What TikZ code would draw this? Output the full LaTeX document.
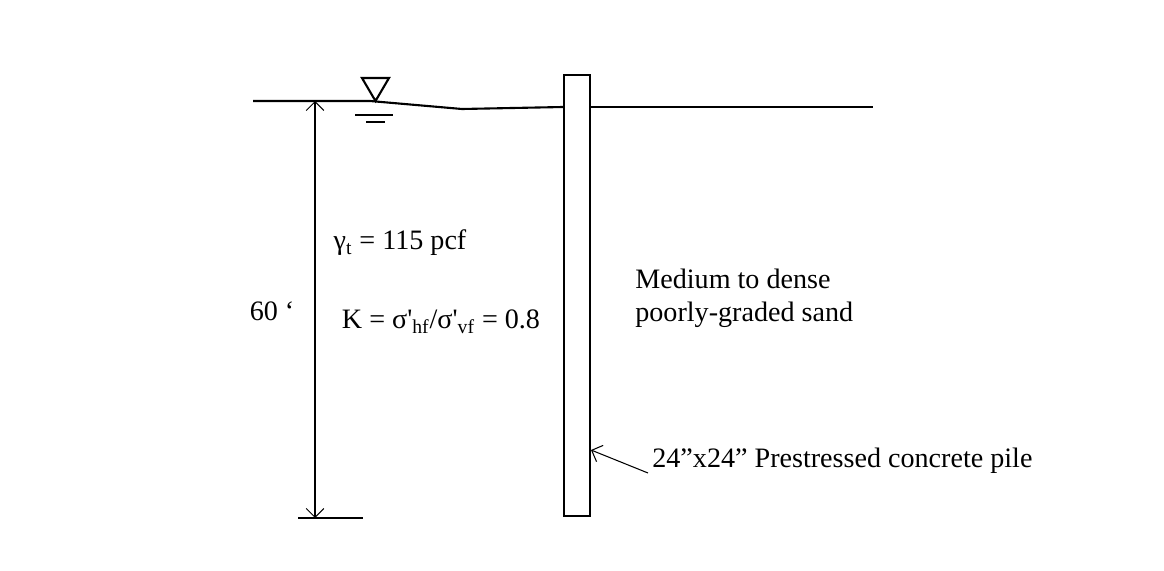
\documentclass[tikz,border=0pt]{standalone}
\usepackage{fontspec}
\setmainfont{Liberation Serif}
\usetikzlibrary{arrows.meta}
\begin{document}
\begin{tikzpicture}[x=0.02cm,y=-0.02cm,
  thick/.style={line width=1.2pt},
  lbl/.style={inner sep=0pt,font=\fontsize{16}{19}\selectfont},
  >={Straight Barb[length=5pt]}]
\useasboundingbox (0,0) rectangle (1164,571);
\draw[thick] (253,101) -- (370,101) -- (462,109) -- (563,107);
\draw[thick] (591,107) -- (873,107);
\node[draw,thick,minimum width=0.52cm,minimum height=8.82cm,inner sep=0pt] (pile) at (577,295.5) {};
\draw[thick] (362,78) -- (389,78) -- (375.5,101) -- cycle;
\draw[thick] (355,115) -- (393,115);
\draw[thick] (366,122) -- (385,122);
\coordinate (top) at (315,101);
\coordinate (bot) at (315,518);
\draw[<->,line width=0.6pt] (top) -- (bot);
\draw[line width=0.6pt] (298,518) -- (363,518);
\node[lbl] (h) at (272,311) {60 ‘};
\node[lbl] (g) at (400,243) {γ\textsubscript{t} = 115 pcf};
\node[lbl] (k) at (441,322) {K = σ\textquotesingle\textsubscript{hf}/σ\textquotesingle\textsubscript{vf} = 0.8};
\node[lbl,anchor=west,align=left] (soil) at (635,298) {Medium to dense\\poorly-graded sand};
\node[lbl,anchor=west] (pl) at (652,461) {24”x24” Prestressed concrete pile};
\coordinate (tip) at (591,450);
\draw[->,line width=0.6pt] (648,473) -- (tip);
\end{tikzpicture}
\end{document}
